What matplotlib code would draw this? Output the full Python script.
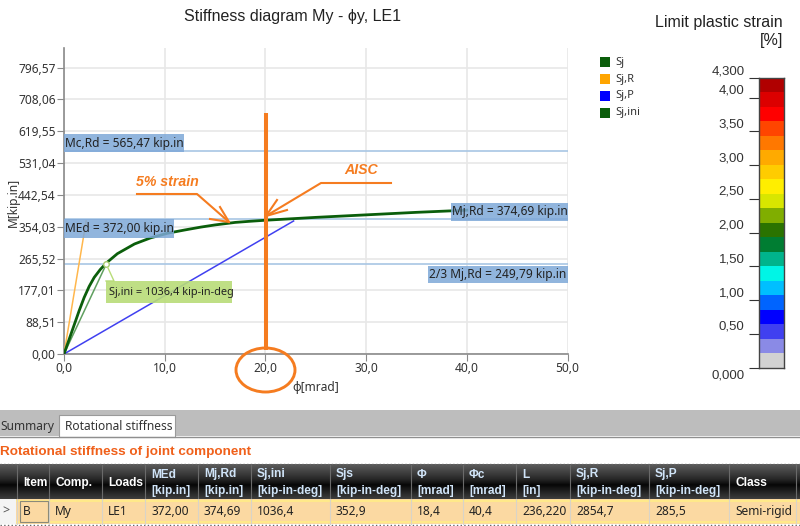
import matplotlib
matplotlib.use("Agg")
import matplotlib.pyplot as plt
from matplotlib.patches import Rectangle, Ellipse
from matplotlib.colors import ListedColormap, BoundaryNorm
import numpy as np

UI = ['Noto Sans', 'DejaVu Sans']
plt.rcParams['font.family'] = UI
ARIAL = ['Liberation Sans', 'DejaVu Sans']

TITLE = "Stiffness diagram My - \u03d5y, LE1"
phi_sj = [0, 0.5, 1, 1.5, 2, 2.5, 3, 3.6, 4.2, 5.3, 7, 8.6, 10.3, 12, 13.6, 15, 17, 18.4, 20, 25, 30, 35, 40]
m_sj = [0, 40, 80, 120, 157, 188, 213, 235, 253, 279, 306, 323, 336, 345, 353, 359, 366, 369, 372, 380, 387, 394, 400]
phi_ini = [0, 4.2]
m_ini = [0, 250]
phi_r = [0, 2.2]
m_r = [0, 370]
phi_p = [0, 22.8]
m_p = [0, 370]
ref_lines = [565.47, 374.69, 249.79]
y_ticks = [0, 88.51, 177.01, 265.52, 354.03, 442.54, 531.04, 619.55, 708.06, 796.57]
y_labels = ["0,00", "88,51", "177,01", "265,52", "354,03", "442,54", "531,04", "619,55", "708,06", "796,57"]
x_ticks = [0, 10, 20, 30, 40, 50]
x_labels = ["0,0", "10,0", "20,0", "30,0", "40,0", "50,0"]
legend_names = ["Sj", "Sj,R", "Sj,P", "Sj,ini"]
legend_colors = ["#0b5e0b", "#ffa500", "#0000ff", "#0b5e0b"]
scale_colors = ["#d2d2d2", "#8a8ae6", "#4040f0", "#0000ff", "#0064ff", "#00bfff", "#00f5e6", "#00b48c",
                "#007d32", "#2a7300", "#80ae00", "#d8e600", "#ffee00", "#ffcc00", "#ffaa00", "#ff7800",
                "#ff4500", "#ff0000", "#dc0000", "#b00000"]
scale_ticks = [0, 0.5, 1, 1.5, 2, 2.5, 3, 3.5, 4]
scale_labels = ["0,000", "0,50", "1,00", "1,50", "2,00", "2,50", "3,00", "3,50", "4,00"]
table_headers = [("Item", ""), ("Comp.", ""), ("Loads", ""), ("MEd", "[kip.in]"), ("Mj,Rd", "[kip.in]"),
                 ("Sj,ini", "[kip-in-deg]"), ("Sjs", "[kip-in-deg]"), ("\u03a6", "[mrad]"), ("\u03a6c", "[mrad]"),
                 ("L", "[in]"), ("Sj,R", "[kip-in-deg]"), ("Sj,P", "[kip-in-deg]"), ("Class", "")]
table_row = ["B", "My", "LE1", "372,00", "374,69", "1036,4", "352,9", "18,4", "40,4", "236,220", "2854,7", "285,5", "Semi-rigid"]
col_edges_px = [18, 50, 103, 146, 199, 252, 331, 412, 464, 517, 571, 650, 730, 797]

W, H = 800, 526
fig = plt.figure(figsize=(W / 100, H / 100), dpi=100, facecolor="white")

def pxax(l, t, r, b):
    return fig.add_axes([l / W, 1 - b / H, (r - l) / W, (b - t) / H])

TXT = "#333333"
BLUE_BOX = "#7ea8d8"
ORANGE = "#f57c20"
FS = 8.6

ax = pxax(64, 48, 567.5, 354)
y_per_px = 796.57 / (354 - 67.6)
ax.set_xlim(0, 50)
ax.set_ylim(0, (354 - 48) * y_per_px)
ax.set_xticks(x_ticks, x_labels, fontsize=FS, color=TXT)
ax.set_yticks(y_ticks, y_labels, fontsize=FS, color=TXT)
ax.grid(True, color="#e8e8e8", lw=1.2)
ax.set_axisbelow(True)
for s in ("top", "right"):
    ax.spines[s].set_visible(False)
for s in ("left", "bottom"):
    ax.spines[s].set_color("#8a8a8a")
    ax.spines[s].set_linewidth(1.2)
ax.tick_params(length=5, color="#8a8a8a", pad=1)
ax.set_xlabel("\u03d5[mrad]", fontsize=FS, color=TXT, va="center")
ax.xaxis.set_label_coords((316 - 64) / 503.5, (354 - 387) / 306)
ax.set_ylabel("M[kip.in]", fontsize=FS, color=TXT, va="center")
ax.yaxis.set_label_coords((13 - 64) / 503.5, (354 - 202) / 306)
fig.text(292 / W, 1 - 17 / H, TITLE, ha="center", va="center", fontsize=11.5, color="#222222", family=ARIAL, zorder=5)

for v in ref_lines:
    ax.axhline(v, color="#a8c6e4", lw=1.2, zorder=2)

ax.plot(phi_r, m_r, color="#ffb74d", lw=1.1, zorder=3)
ax.plot(phi_p, m_p, color="#4040f0", lw=1.1, zorder=3)
ax.plot(phi_ini, m_ini, color="#5f9f5f", lw=1.1, zorder=3)
ax.plot(phi_sj, m_sj, color=legend_colors[0], lw=2.0, zorder=4)
ax.plot([phi_ini[-1]], [m_ini[-1]], "o", ms=4, mfc="white", mec="#a8cc70", zorder=6)

ov = fig.add_axes([0, 0, 1, 1], zorder=10)
ov.set_xlim(0, W)
ov.set_ylim(H, 0)
ov.axis("off")
ov.patch.set_alpha(0)

def label(l, t, r, b, s, color=BLUE_BOX, alpha=0.85, tx=None, fs=FS):
    ov.add_patch(Rectangle((l, t), r - l, b - t, fc=color, ec="none", alpha=alpha, zorder=1))
    ov.text(tx if tx is not None else l + 1, (t + b) / 2, s, fontsize=fs, color="#222222", va="center", ha="left", zorder=2)

label(64, 134, 183.5, 152, "Mc,Rd = 565,47 kip.in")
label(64, 219, 174, 238, "MEd = 372,00 kip.in")
label(451, 203, 568, 221, "Mj,Rd = 374,69 kip.in")
label(428, 266, 568, 283, "2/3 Mj,Rd = 249,79 kip.in")
label(106, 281, 232, 303, "Sj,ini = 1036,4 kip-in-deg", color="#b8dc78", alpha=0.9, tx=109, fs=7.9)
ov.plot([108, 114, 106], [268, 281, 281], color="#b8dc78", lw=1)

ov.plot([265.6, 265.6], [113, 350], color=ORANGE, lw=2.9, solid_capstyle="butt", zorder=3)
ov.add_patch(Ellipse((265.5, 370), 59, 44, fc="none", ec=ORANGE, lw=2.1, zorder=3))
ov.text(167, 181.5, "5% strain", color=ORANGE, fontsize=10.2, style="italic", fontweight="bold", family=ARIAL, ha="center", va="center")
ov.text(361, 170, "AISC", color=ORANGE, fontsize=10.2, style="italic", fontweight="bold", family=ARIAL, ha="center", va="center")
ov.plot([137, 197, 229], [194, 194, 222], color=ORANGE, lw=1.5)
ov.plot([220, 229, 210], [207, 222, 219], color=ORANGE, lw=1.5)
ov.plot([391, 321, 266], [183, 183, 216], color=ORANGE, lw=1.5)
ov.plot([277, 266, 287], [200, 216, 210], color=ORANGE, lw=1.5)

for i, (n, c) in enumerate(zip(legend_names, legend_colors)):
    y = 62.3 + i * 16.8
    ov.add_patch(Rectangle((600, y - 5), 10, 10, fc=c, ec="none"))
    ov.text(615, y, n, fontsize=8, color=TXT, va="center", ha="left")

# colour scale
SC_T, SC_B = 77.5, 367.5
cax = pxax(759, SC_T, 783.5, SC_B)
edges = np.linspace(0, 4.3, len(scale_colors) + 1)
cax.pcolormesh([0, 1], edges, np.arange(len(scale_colors)).reshape(-1, 1),
               cmap=ListedColormap(scale_colors), norm=BoundaryNorm(np.arange(len(scale_colors) + 1) - 0.5, len(scale_colors)))
cax.set_xticks([])
cax.set_ylim(0, 4.3)
cax.set_yticks(list(scale_ticks) + [4.3], [""] * (len(scale_ticks) + 1))
cax.tick_params(axis="y", length=7, color="#333333")
for s in cax.spines.values():
    s.set_color("#444444")
    s.set_linewidth(1)
for v, s in zip(scale_ticks, scale_labels):
    y = SC_B - v / 4.3 * (SC_B - SC_T)
    y = y + 7.5 if v == 0 else y - 7
    ov.text(744.5, y, s, fontsize=9.5, color=TXT, family=ARIAL, ha="right", va="center")
ov.text(744.5, 71, "4,300", fontsize=9.5, color=TXT, family=ARIAL, ha="right", va="center")
ov.text(783, 22, "Limit plastic strain", fontsize=11.5, color="#222222", family=ARIAL, ha="right", va="center")
ov.text(783, 41, "[%]", fontsize=11.5, color="#222222", family=ARIAL, ha="right", va="center")

# tabs
ov.add_patch(Rectangle((0, 410), 800, 26, fc="#bdbdbd", ec="none"))
ov.plot([0, 800], [436.5, 436.5], color="#8f8f8f", lw=1)
ov.add_patch(Rectangle((59, 415), 116, 22, fc="white", ec="#9a9a9a", lw=0.8))
ov.text(0.5, 426.5, "Summary", fontsize=FS, color=TXT, va="center")
ov.text(65, 426.5, "Rotational stiffness", fontsize=FS, color=TXT, va="center")
ov.text(0.5, 451.5, "Rotational stiffness of joint component", fontsize=9.7, color="#f0601a", fontweight="bold", family=ARIAL, va="center")

# table
head = np.interp(np.linspace(0, 1, 36), [0, 0.42, 0.6, 1], [0.36, 0.16, 0.03, 0.24]).reshape(-1, 1)
ov.imshow(head, extent=(0, 800, 499, 464), cmap="gray", vmin=0, vmax=1, aspect="auto", zorder=1)
ov.set_xlim(0, W)
ov.set_ylim(H, 0)
ov.add_patch(Rectangle((0, 499), 800, 25, fc="#fbd9a2", ec="none", zorder=1))
ov.plot([0, 800], [500.5, 500.5], color="#ffe98a", lw=1.5, zorder=2)
ov.plot([0, 800], [522, 522], color="#ffe98a", lw=1.5, zorder=2)
ov.plot([0, 800], [525, 525], color="#666666", lw=1, ls=":", zorder=2)
ov.plot([0, 800], [463.5, 463.5], color="#666666", lw=1, ls=":", zorder=2)
for x in col_edges_px:
    ov.plot([x - 1, x - 1], [465, 499], color="#6a6a6a", lw=0.8, zorder=2)
    ov.plot([x - 1, x - 1], [499, 524], color="#d8d4c8", lw=0.8, zorder=2)
ov.add_patch(Rectangle((19.5, 501), 28, 21, fc="#fbd9a2", ec="#8a8a7a", lw=0.8, zorder=3))
ov.add_patch(Rectangle((0, 499), 16, 25, fc="#f4f4f4", ec="none", zorder=2))
ov.text(6, 511, ">", fontsize=9, color="#555555", ha="center", va="center", zorder=4)
for i, ((a, b), v) in enumerate(zip(table_headers, table_row)):
    x = col_edges_px[i] + 5
    if b:
        ov.text(x, 474.5, a, fontsize=8.6, color="#d0e4f8", fontweight="bold", family=ARIAL, va="center", zorder=4)
        ov.text(x, 491, b, fontsize=8.6, color="#d0e4f8", fontweight="bold", family=ARIAL, va="center", zorder=4)
    else:
        ov.text(x, 483, a, fontsize=8.6, color="white", fontweight="bold", family=ARIAL, va="center", zorder=4)
    ov.text(x, 511.5, v, fontsize=FS, color="#222222", va="center", zorder=4)

fig.savefig("out.png", dpi=100, facecolor="white")
